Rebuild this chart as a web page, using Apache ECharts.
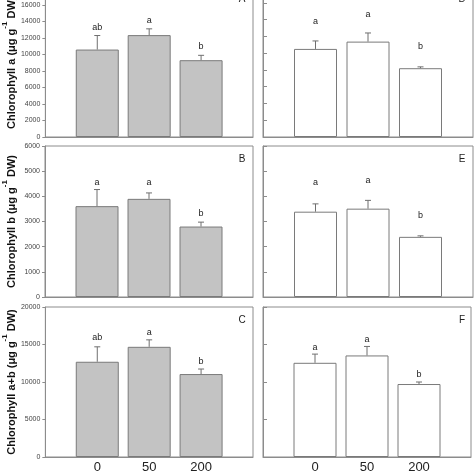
<!DOCTYPE html>
<html lang="en">
<head>
	<meta charset="UTF-8">
	<title>Chlorophyll panels</title>
	<script src="https://cdn.jsdelivr.net/npm/echarts@6/dist/echarts.min.js"></script>
	<style>
		html,body{width:100%;height:100%;margin:0;background:#fff;overflow:hidden;}
		/* the source figure is cropped at the top, so the canvas starts 15px above the page */
		#chart{position:absolute;left:0;top:-15px;width:474px;height:489px;}
	</style>
</head>
<body>
	<div id="chart"></div>
</body>
<script>
	// treatments (x axis), padded with empty slots on both sides
	var treatments = ['0', '50', '200'];

	// chlorophyll a
	var chlA_gray = [10600, 12350, 9310];
	var chlA_gray_err = [1700, 760, 590];
	var chlA_gray_sig = ['ab', 'a', 'b'];
	var chlA_gray_sigY = [13270, 14130, 10970];
	var chlA_white = [10500, 11370, 8200];
	var chlA_white_err = [950, 1030, 160];
	var chlA_white_sig = ['a', 'a', 'b'];
	var chlA_white_sigY = [13740, 14650, 10810];

	// chlorophyll b
	var chlB_gray = [3610, 3900, 2800];
	var chlB_gray_err = [660, 235, 175];
	var chlB_gray_sig = ['a', 'a', 'b'];
	var chlB_gray_sigY = [4560, 4560, 3336];
	var chlB_white = [3390, 3510, 2390];
	var chlB_white_err = [310, 330, 40];
	var chlB_white_sig = ['a', 'a', 'b'];
	var chlB_white_sigY = [4536, 4640, 3228];

	// chlorophyll a+b
	var chlAB_gray = [12700, 14690, 11060];
	var chlAB_gray_err = [1990, 930, 670];
	var chlAB_gray_sig = ['ab', 'a', 'b'];
	var chlAB_gray_sigY = [15880, 16600, 12790];
	var chlAB_white = [12560, 13540, 9730];
	var chlAB_white_err = [1160, 1200, 270];
	var chlAB_white_sig = ['a', 'a', 'b'];
	var chlAB_white_sigY = [14560, 15710, 11060];

	// y axis ranges per row
	var rowMax = [18000, 6000, 20000];
	var rowStep = [2000, 1000, 5000];
	var rowTitle = ['Chlorophyll a', 'Chlorophyll b', 'Chlorophyll a+b'];
	var panelTags = [['A', 'D'], ['B', 'E'], ['C', 'F']];

	var FONT = 'Arial, "Liberation Sans", sans-serif';
	var LINE = '#8c8c8c';

	var myChart = echarts.init(document.getElementById('chart'));

	var rows = [
		{gray: [chlA_gray, chlA_gray_err, chlA_gray_sig, chlA_gray_sigY], white: [chlA_white, chlA_white_err, chlA_white_sig, chlA_white_sigY]},
		{gray: [chlB_gray, chlB_gray_err, chlB_gray_sig, chlB_gray_sigY], white: [chlB_white, chlB_white_err, chlB_white_sig, chlB_white_sigY]},
		{gray: [chlAB_gray, chlAB_gray_err, chlAB_gray_sig, chlAB_gray_sigY], white: [chlAB_white, chlAB_white_err, chlAB_white_sig, chlAB_white_sigY]}
	];

	var gridTop = [1, 161, 322];
	var gridH = [151, 151, 150];
	var colLeft = [43, 263];

	var xCats = [''].concat(treatments).concat(['']);

	var grids = [], xAxes = [], yAxes = [], series = [], graphics = [];

	function pad(arr) {
		return ['-'].concat(arr).concat(['-']);
	}

	for (var r = 0; r < 3; r++) {
		for (var c = 0; c < 2; c++) {
			var idx = grids.length;
			var set = c === 0 ? rows[r].gray : rows[r].white;
			grids.push({
				left: colLeft[c], top: gridTop[r], width: 210, height: gridH[r],
				show: true, borderColor: LINE, borderWidth: 1, backgroundColor: 'transparent'
			});
			xAxes.push({
				type: 'category', gridIndex: idx, data: xCats, boundaryGap: false,
				axisLine: {lineStyle: {color: LINE}},
				axisTick: {show: false},
				axisLabel: {
					show: r === 2, fontSize: 13, color: '#222', fontFamily: FONT, margin: 4,
					interval: 0
				},
				splitLine: {show: false}
			});
			var yAx = {
				type: 'value', gridIndex: idx, min: 0, max: rowMax[r], interval: rowStep[r],
				axisLine: {show: true, lineStyle: {color: LINE}},
				axisTick: {show: true, inside: c === 1, length: c === 1 ? 4 : 3, lineStyle: {color: LINE}},
				axisLabel: {
					show: c === 0, fontSize: 7, color: '#444', fontFamily: FONT, margin: 5,
					formatter: function (v) { return String(v); }
				},
				splitLine: {show: false}
			};
			if (c === 0) {
				yAx.name = '{b|' + rowTitle[r] + ' (μg g}{s|-1}{b| DW)}';
				yAx.nameLocation = 'middle';
				yAx.nameRotate = 90;
				yAx.nameGap = 28;
				yAx.nameTextStyle = {
					rich: {
						b: {fontSize: 11, fontWeight: 'bold', color: '#111', fontFamily: FONT, lineHeight: 16, verticalAlign: 'bottom'},
						s: {fontSize: 8, fontWeight: 'bold', color: '#111', fontFamily: FONT, lineHeight: 16, verticalAlign: 'top'}
					}
				};
			}
			yAxes.push(yAx);

			series.push({
				type: 'bar', xAxisIndex: idx, yAxisIndex: idx,
				data: pad(set[0]), barWidth: 43, silent: true,
				itemStyle: {color: c === 0 ? '#c3c3c3' : '#ffffff', borderColor: '#7a7a7a', borderWidth: 1}
			});

			// upper error bars
			(function (vals, errs) {
				var d = [];
				for (var i = 0; i < vals.length; i++) d.push([i + 1, vals[i], errs[i]]);
				series.push({
					type: 'custom', xAxisIndex: idx, yAxisIndex: idx, data: d, silent: true, z: 3,
					renderItem: function (params, api) {
						var x = api.value(0), v = api.value(1), e = api.value(2);
						var base = api.coord([x, v]);
						var top = api.coord([x, v + e]);
						var st = {stroke: '#6f6f6f', lineWidth: 1};
						return {
							type: 'group',
							children: [
								{type: 'line', shape: {x1: base[0], y1: base[1], x2: top[0], y2: top[1]}, style: st},
								{type: 'line', shape: {x1: top[0] - 3, y1: top[1], x2: top[0] + 3, y2: top[1]}, style: st}
							]
						};
					}
				});
			})(set[0], set[1]);

			// significance letters
			(function (sig, sigY) {
				var d = [];
				for (var i = 0; i < sig.length; i++) d.push([i + 1, sigY[i]]);
				series.push({
					type: 'custom', xAxisIndex: idx, yAxisIndex: idx, data: d, silent: true, z: 4,
					renderItem: function (params, api) {
						var p = api.coord([api.value(0), api.value(1)]);
						return {
							type: 'text', x: p[0], y: p[1],
							style: {text: sig[params.dataIndex], fontSize: 9, fill: '#222', fontFamily: FONT, align: 'center', verticalAlign: 'middle'}
						};
					}
				});
			})(set[2], set[3]);

			graphics.push({
				type: 'text', x: colLeft[c] + 199, y: gridTop[r] + 13,
				style: {text: panelTags[r][c], fontSize: 10, fill: '#222', fontFamily: FONT, align: 'center', verticalAlign: 'middle'}
			});
		}
	}

	var options = {
		animation: false,
		backgroundColor: '#fff',
		grid: grids,
		xAxis: xAxes,
		yAxis: yAxes,
		series: series,
		graphic: graphics
	};
	myChart.setOption(options);
</script>
</html>
